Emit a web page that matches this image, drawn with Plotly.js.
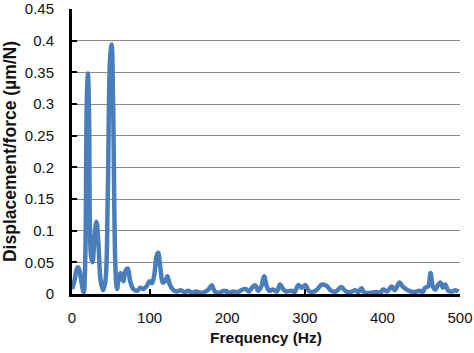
<!DOCTYPE html>
<html>
<head>
<meta charset="utf-8">
<script src="https://cdn.plot.ly/plotly-3.0.1.min.js"></script>
<style>html,body{margin:0;padding:0;background:#fff;}#chart{width:474px;height:353px;}</style>
</head>
<body>
<div id="chart"></div>
<script>
const frequencyHz = [0,3,7,9,12,15,17,19,20.5,22,24.5,26.5,29,31.5,34,37,40,43,46,49,51,53,56,58,61,63,66,69.5,72,75,79,84,88,92,96,100,103,106,109,111,114,117,120,123,126,130,135,140,145,150,155,160,165,170,175,180,184,190,196,202,208,214,218,224,228,232,236,240,244,247.5,251,254,259,264,268,272,276,283,287,291.5,296,301,305,309,315,322,328,334,340,347,353,359,365,369,373,377,385,392,397,401,406,412,416,422,426,430,436,442,448,452,455,459,462,465,468,472,475,478,481,485,490,494,498];
const displacementPerForce = [0.008,0.02,0.042,0.04,0.02,0.003,0.05,0.3,0.348,0.28,0.06,0.05,0.09,0.114,0.08,0.02,0.006,0.02,0.15,0.37,0.394,0.3,0.04,0.008,0.03,0.033,0.02,0.038,0.04,0.02,0.008,0.005,0.01,0.008,0.012,0.02,0.017,0.03,0.06,0.065,0.04,0.018,0.02,0.028,0.015,0.007,0.004,0.006,0.003,0.005,0.002,0.004,0.002,0.003,0.006,0.014,0.004,0.002,0.005,0.002,0.004,0.003,0.006,0.008,0.004,0.01,0.014,0.005,0.012,0.028,0.012,0.005,0.007,0.004,0.015,0.008,0.004,0.005,0.003,0.014,0.01,0.014,0.005,0.003,0.006,0.015,0.013,0.005,0.004,0.011,0.004,0.003,0.006,0.003,0.009,0.002,0.002,0.003,0.002,0.007,0.004,0.012,0.006,0.018,0.012,0.008,0.004,0.003,0.005,0.003,0.01,0.012,0.033,0.012,0.007,0.015,0.018,0.01,0.015,0.005,0.004,0.006,0.004];
const xTickVals = [0,100,200,300,400,500];
const yTickVals = [0,0.05,0.1,0.15,0.2,0.25,0.3,0.35,0.4,0.45];
const yTickText = ['0','0.05','0.1','0.15','0.2','0.25','0.3','0.35','0.4','0.45'];
const xTitle = 'Frequency (Hz)';
const yTitle = 'Displacement/force (µm/N)';

const font = 'Liberation Sans, Arial, sans-serif';
const trace = {
  x: frequencyHz, y: displacementPerForce, type: 'scatter', mode: 'lines',
  line: {color: '#4a7ebb', width: 4.5, shape: 'spline', smoothing: 1},
  hoverinfo: 'skip', cliponaxis: false
};
const layout = {
  width: 474, height: 353,
  margin: {l: 72, r: 14, t: 9, b: 59, pad: 0},
  paper_bgcolor: '#fff', plot_bgcolor: '#fff',
  showlegend: false,
  font: {family: font, size: 15, color: '#111'},
  xaxis: {
    range: [0, 500], tickvals: xTickVals, ticktext: xTickVals.map(String),
    showgrid: false, zeroline: false,
    showline: true, linecolor: '#000', linewidth: 3,
    ticks: 'inside', ticklen: 5, tickwidth: 2, tickcolor: '#000',
    ticklabelstandoff: 8, ticklabeloverflow: 'allow',
    layer: 'below traces',
    tickfont: {family: font, size: 15, color: '#111'},
    title: {text: xTitle, font: {family: font, size: 15.5, color: '#111', weight: 'bold'}, standoff: 8}
  },
  yaxis: {
    range: [0, 0.45], tickvals: yTickVals, ticktext: yTickText,
    showgrid: true, gridcolor: '#8a8a8a', gridwidth: 1, zeroline: false,
    showline: true, linecolor: '#000', linewidth: 3,
    ticks: 'inside', ticklen: 5, tickwidth: 2, tickcolor: '#000',
    ticklabelstandoff: 12, ticklabeloverflow: 'allow',
    layer: 'below traces',
    tickfont: {family: font, size: 15, color: '#111'},
    title: {text: yTitle, font: {family: font, size: 17.5, color: '#111', weight: 'bold'}, standoff: 6}
  }
};
Plotly.newPlot('chart', [trace], layout, {staticPlot: true, displayModeBar: false});
</script>
</body>
</html>
